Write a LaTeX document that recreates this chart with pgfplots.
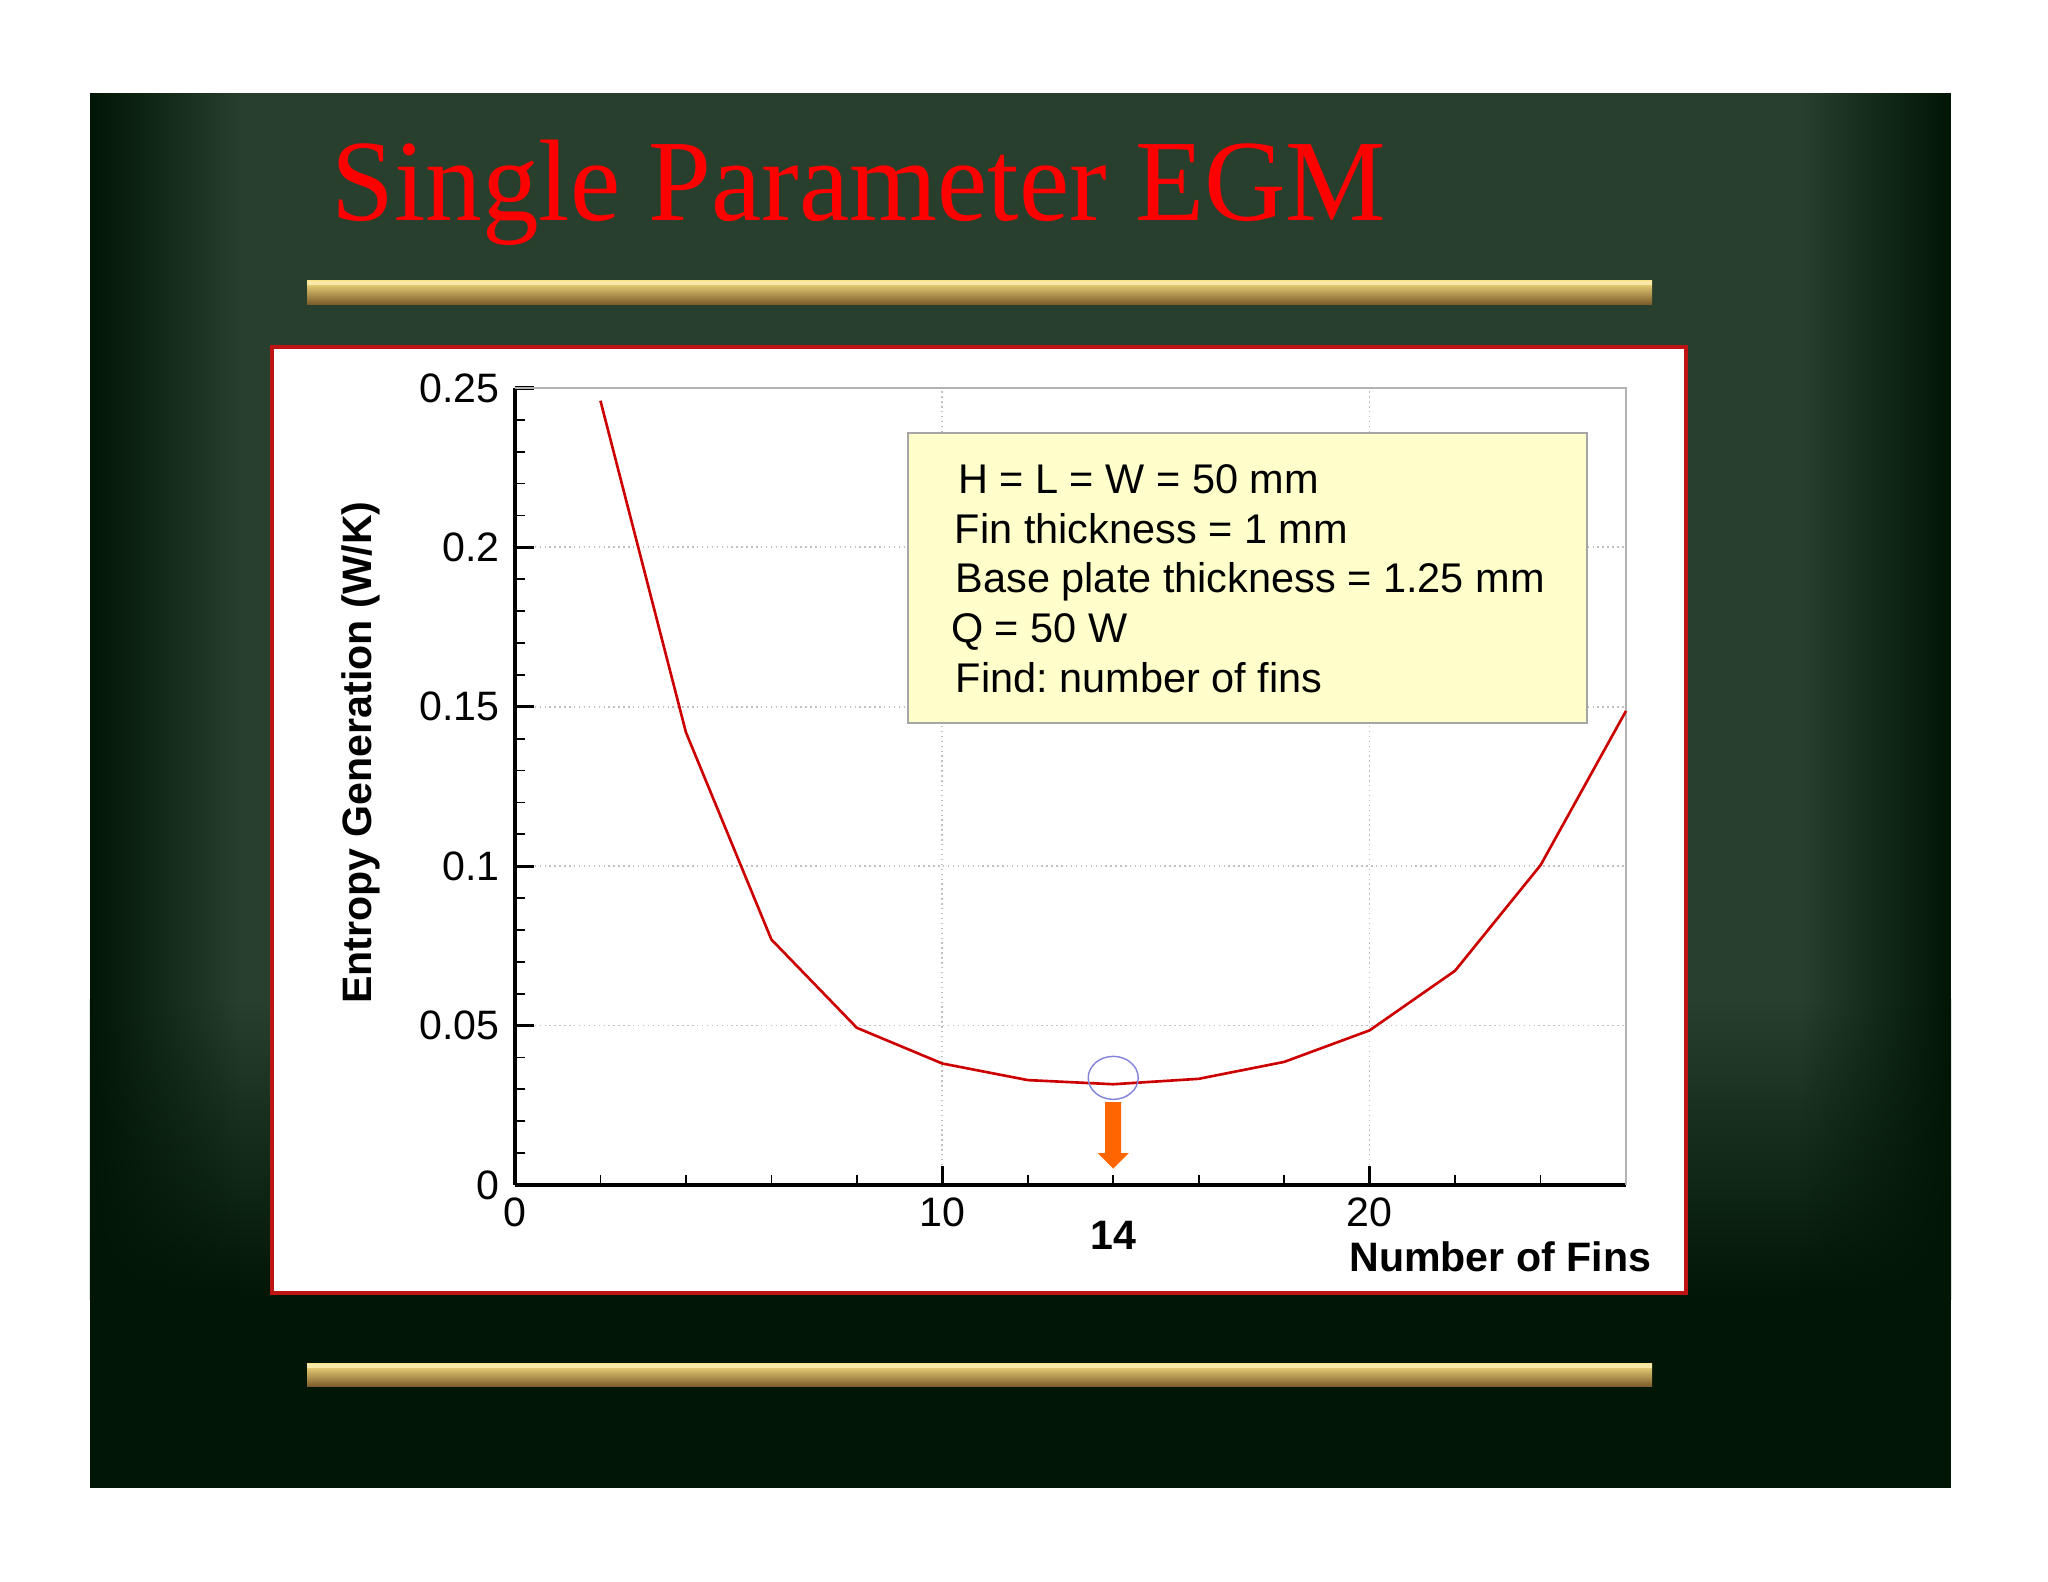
\documentclass[border=0pt]{standalone}
\usepackage{pgfplots}
\pgfplotsset{compat=1.18}
\usepackage{fontspec}
\setmainfont{Liberation Sans}
\newfontfamily\titlefont{Liberation Serif}
\usetikzlibrary{fadings}
\frenchspacing

\definecolor{slidegreen}{RGB}{40,63,45}
\definecolor{slidedark}{RGB}{1,22,5}
\definecolor{goldtop}{RGB}{246,222,130}
\definecolor{goldmid}{RGB}{205,165,98}
\definecolor{goldbot}{RGB}{120,88,40}
\definecolor{curvered}{RGB}{204,0,0}
\definecolor{boxyellow}{RGB}{255,255,204}
\definecolor{boxred}{RGB}{190,20,20}
\definecolor{arroworange}{RGB}{255,102,0}
\definecolor{ellblue}{RGB}{130,130,220}

\pgfplotstableread{
x y
2 0.2460
4 0.1420
6 0.0770
8 0.0493
10 0.0381
12 0.0329
14 0.0316
16 0.0333
18 0.0386
20 0.0485
22 0.0672
24 0.1003
26 0.1487
}\entropydata

\begin{document}
\begin{tikzpicture}[x=1cm,y=1cm]
\useasboundingbox (0,0) rectangle (20.48,15.82);
\fill[white] (0,0) rectangle (20.48,15.82);
% slide background
\fill[slidegreen] (0.90,0.94) rectangle (19.51,14.89);
\shade[top color=slidegreen, bottom color=slidedark] (0.90,2.82) rectangle (19.51,5.82);
\fill[slidedark] (0.90,0.94) rectangle (19.51,2.82);
\fill[slidedark, path fading=east] (0.90,0.94) rectangle (2.40,14.89);
\fill[slidedark, path fading=west] (18.01,0.94) rectangle (19.51,14.89);
% title
\node[anchor=base west, inner sep=0, text=red, font=\titlefont\fontsize{33}{36}\selectfont, xscale=0.975] at (3.305,13.61) {Single Parameter EGM};
% gold bars
\shade[top color=goldtop, middle color=goldmid, bottom color=goldbot] (3.07,12.77) rectangle (16.52,13.01);
\fill[goldtop!70!white] (3.07,12.97) rectangle (16.52,13.01);
\shade[top color=goldtop, middle color=goldmid, bottom color=goldbot] (3.07,1.95) rectangle (16.52,2.18);
\fill[goldtop!70!white] (3.07,2.14) rectangle (16.52,2.18);
% white panel
\filldraw[fill=white, draw=boxred, line width=0.04cm] (2.72,2.89) rectangle (16.86,12.35);

\begin{axis}[
  at={(5.15cm,3.97cm)}, anchor=south west,
  scale only axis, width=11.11cm, height=7.97cm,
  xmin=0, xmax=26, ymin=0, ymax=0.25,
  axis lines*=left,
  axis line style={black, line width=1pt},
  xtick={0,10,20},
  minor xtick={2,4,6,8,12,14,16,18,22,24},
  ytick={0,0.05,0.1,0.15,0.2,0.25},
  yticklabels={0,0.05,0.1,0.15,0.2,0.25},
  minor ytick={0.01,0.02,0.03,0.04,0.06,0.07,0.08,0.09,0.11,0.12,0.13,0.14,0.16,0.17,0.18,0.19,0.21,0.22,0.23,0.24},
  scaled y ticks=false,
  tick align=inside,
  major tick length=0.19cm, minor tick length=0.1cm,
  every major tick/.append style={black, line width=0.9pt},
  every minor tick/.append style={black, line width=0.5pt},
  xmajorgrids, ymajorgrids,
  major grid style={densely dotted, gray!50, line width=0.5pt},
  /pgf/number format/assume math mode=true,
  tick label style={font=\fontsize{11.7}{14}\selectfont, black},
  yticklabel style={xshift=-0.03cm},
  xlabel={Number of Fins}, ylabel={Entropy Generation (W/K)},
  label style={font=\bfseries\fontsize{11.7}{14}\selectfont},
  xlabel style={at={(axis description cs:1.0232,-0.1088)}, anchor=base east, inner sep=0pt},
  ylabel style={at={(axis description cs:-0.129,0.5425)}, anchor=base},
  clip=false,
]
\draw[gray!60, line width=0.6pt] (rel axis cs:0,1) -- (rel axis cs:1,1) -- (rel axis cs:1,0);
\addplot[curvered, line width=0.75pt, mark=none] table[x=x, y=y] {\entropydata};
\draw[ellblue, line width=0.4pt] (axis cs:14,0.0336) ellipse [x radius=0.25cm, y radius=0.215cm];
\fill[arroworange] (axis cs:13.813,0.026) -- (axis cs:14.187,0.026) -- (axis cs:14.187,0.010) -- (axis cs:14.363,0.010) -- (axis cs:14,0.0051) -- (axis cs:13.637,0.010) -- (axis cs:13.813,0.010) -- cycle;
\node[anchor=base, yshift=-0.65cm, font=\bfseries\fontsize{11.7}{14}\selectfont] at (axis cs:14,0) {14};
\end{axis}

% parameter box
\filldraw[fill=boxyellow, draw=gray!70, line width=0.6pt] (9.08,8.59) rectangle (15.87,11.49);
\begin{scope}[every node/.style={anchor=base west, inner sep=0, font=\fontsize{11.8}{14}\selectfont}]
\node at (9.574,10.880) {H = L = W = 50 mm};
\node at (9.542,10.387) {Fin thickness = 1 mm};
\node at (9.550,9.893) {Base plate thickness = 1.25 mm};
\node at (9.505,9.393) {Q = 50 W};
\node at (9.550,8.893) {Find: number of fins};
\end{scope}
\end{tikzpicture}
\end{document}
